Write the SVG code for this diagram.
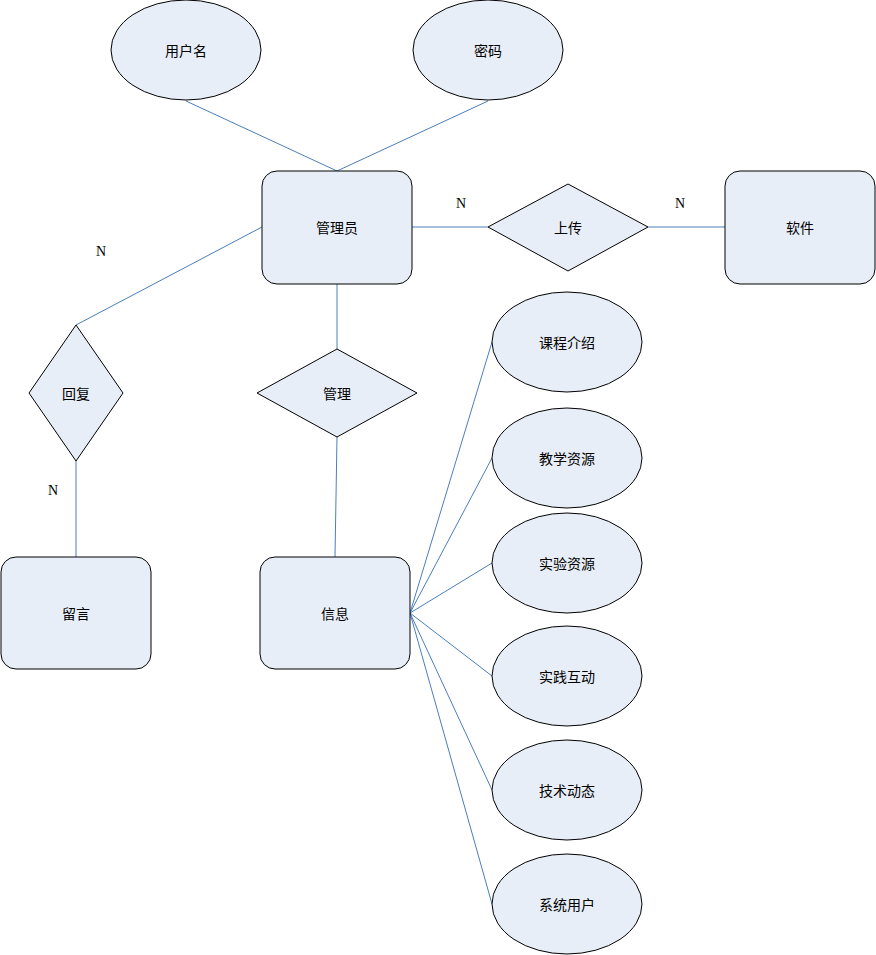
<svg xmlns="http://www.w3.org/2000/svg" width="876" height="955" viewBox="0 0 876 955">
<style>
.s{fill:#E8EEF7;stroke:#000;stroke-width:1}
.l{stroke:#4A7EBB;stroke-width:1;fill:none}
text{font-family:"Noto Sans CJK SC","Liberation Serif",sans-serif;font-size:14px;text-anchor:middle;dominant-baseline:central;fill:#000}
.n{font-family:"Liberation Serif",serif}
</style>
<rect width="876" height="955" fill="#fff"/>
<g id="connectors">
<line class="l" x1="186" y1="101" x2="337" y2="171"/>
<line class="l" x1="488" y1="101" x2="337" y2="171"/>
<line class="l" x1="412" y1="227" x2="488" y2="227"/>
<line class="l" x1="648" y1="227" x2="725" y2="227"/>
<line class="l" x1="262" y1="227" x2="76" y2="325"/>
<line class="l" x1="76" y1="461" x2="76" y2="557"/>
<line class="l" x1="337" y1="284" x2="337" y2="349"/>
<line class="l" x1="337" y1="437" x2="335" y2="557"/>
<line class="l" x1="410" y1="613" x2="492" y2="342"/>
<line class="l" x1="410" y1="613" x2="492" y2="458"/>
<line class="l" x1="410" y1="613" x2="492" y2="563"/>
<line class="l" x1="410" y1="613" x2="492" y2="676"/>
<line class="l" x1="410" y1="613" x2="492" y2="790"/>
<line class="l" x1="410" y1="613" x2="492" y2="904"/>
<text class="n" x="461" y="203">N</text>
<text class="n" x="680" y="203">N</text>
<text class="n" x="101" y="251">N</text>
<text class="n" x="53" y="490">N</text>
</g>
<g id="username"><ellipse class="s" cx="186" cy="50" rx="75" ry="50"/><text x="186" y="50">用户名</text></g>
<g id="password"><ellipse class="s" cx="488" cy="50" rx="75" ry="50"/><text x="488" y="50">密码</text></g>
<g id="admin"><rect class="s" x="262" y="171" width="150" height="113" rx="15"/><text x="337" y="227">管理员</text></g>
<g id="software"><rect class="s" x="725" y="171" width="150" height="113" rx="15"/><text x="800" y="227">软件</text></g>
<g id="upload"><polygon class="s" points="488,227 568,184 648,227 568,271"/><text x="568" y="227">上传</text></g>
<g id="reply"><polygon class="s" points="29,393 76,325 123,393 76,461"/><text x="76" y="393">回复</text></g>
<g id="manage"><polygon class="s" points="257,393 337,349 417,393 337,437"/><text x="337" y="393">管理</text></g>
<g id="message"><rect class="s" x="1" y="557" width="150" height="112" rx="15"/><text x="76" y="613">留言</text></g>
<g id="info"><rect class="s" x="260" y="557" width="150" height="112" rx="15"/><text x="335" y="613">信息</text></g>
<g id="e1"><ellipse class="s" cx="567" cy="342" rx="75" ry="50"/><text x="567" y="342">课程介绍</text></g>
<g id="e2"><ellipse class="s" cx="567" cy="458" rx="75" ry="50"/><text x="567" y="458">教学资源</text></g>
<g id="e3"><ellipse class="s" cx="567" cy="563" rx="75" ry="50"/><text x="567" y="563">实验资源</text></g>
<g id="e4"><ellipse class="s" cx="567" cy="676" rx="75" ry="50"/><text x="567" y="676">实践互动</text></g>
<g id="e5"><ellipse class="s" cx="567" cy="790" rx="75" ry="50"/><text x="567" y="790">技术动态</text></g>
<g id="e6"><ellipse class="s" cx="567" cy="904" rx="75" ry="50"/><text x="567" y="904">系统用户</text></g>
</svg>
